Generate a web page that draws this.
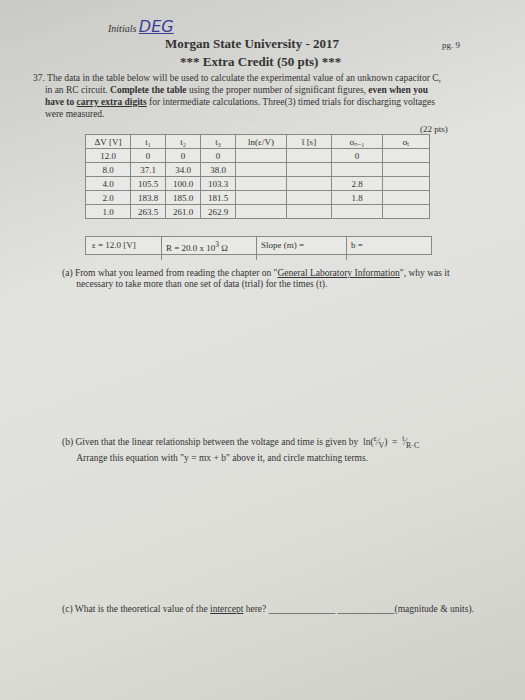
<!DOCTYPE html>
<html><head><meta charset="utf-8">
<script src="https://cdn.jsdelivr.net/npm/chart.js@4"></script>
<style>
body{margin:0;width:525px;height:700px;overflow:hidden;background:linear-gradient(160deg,#c9c9c6 0%,#e2e2df 35%,#deded9 70%,#cfcfca 100%);font-family:"Liberation Serif",serif;color:#333}
.a{position:absolute;white-space:nowrap}
table{position:absolute;left:85px;top:134px;border-collapse:collapse;font-size:9px;background:#e8e8e4}
td{border:1px solid #888;height:13px;padding:0 3px;text-align:center}
#bot{position:absolute;left:85px;top:236px;width:345px;height:17px;border:1px solid #888;font-size:9px;background:#e8e8e4}
</style></head><body>
<div class="a" style="left:108px;top:17px;font-size:10px;font-style:italic">Initials <span style="font-size:16px;color:#3a3f9a;text-decoration:underline;font-family:'DejaVu Sans'">DEG</span></div>
<div class="a" style="left:165px;top:36px;font-size:13px;font-weight:bold">Morgan State University - 2017</div>
<div class="a" style="left:442px;top:40px;font-size:9px">pg. 9</div>
<div class="a" style="left:180px;top:54px;font-size:13px;font-weight:bold">*** Extra Credit (50 pts) ***</div>
<div class="a" style="left:33px;top:72px;font-size:9.5px;line-height:12px">37. The data in the table below will be used to calculate the experimental value of an unknown capacitor C,<br>&nbsp;&nbsp;&nbsp;&nbsp;&nbsp;in an RC circuit. <b>Complete the table</b> using the proper number of significant figures, <b>even when you</b><br>&nbsp;&nbsp;&nbsp;&nbsp;&nbsp;<b>have to <u>carry extra digits</u></b> for intermediate calculations. Three(3) timed trials for discharging voltages<br>&nbsp;&nbsp;&nbsp;&nbsp;&nbsp;were measured.</div>
<div class="a" style="left:420px;top:124px;font-size:9px">(22 pts)</div>
<table id="t"></table>
<div id="bot"><span class="a" style="left:6px;top:3px">ε = 12.0 [V]</span><span class="a" style="left:75px;top:0;height:17px;border-left:1px solid #888;padding:3px 4px">R = 20.0 x 10<sup>3</sup> Ω</span><span class="a" style="left:170px;top:0;height:17px;border-left:1px solid #888;padding:3px 4px">Slope (m) =</span><span class="a" style="left:260px;top:0;height:17px;border-left:1px solid #888;padding:3px 4px">b =</span></div>
<div class="a" style="left:62px;top:268px;font-size:9.5px;line-height:11px">(a) From what you learned from reading the chapter on "<u>General Laboratory Information</u>", why was it<br>&nbsp;&nbsp;&nbsp;&nbsp;&nbsp;&nbsp;necessary to take more than one set of data (trial) for the times (t).</div>
<div class="a" style="left:62px;top:432px;font-size:9.5px;line-height:13px">(b) Given that the linear relationship between the voltage and time is given by &nbsp;ln(<sup>ε</sup>&frasl;<sub>V</sub>) &nbsp;= &nbsp;<sup>t</sup>&frasl;<sub>R·C</sub><br>&nbsp;&nbsp;&nbsp;&nbsp;&nbsp;&nbsp;Arrange this equation with "y = mx + b" above it, and circle matching terms.</div>
<div class="a" style="left:62px;top:604px;font-size:9.5px">(c) What is the theoretical value of the <u>intercept</u> here? ______________ ____________(magnitude &amp; units).</div>
<script>
const headers = ["ΔV [V]", "t₁", "t₂", "t₃", "ln(ε/V)", "t̄ [s]", "σₙ₋₁", "σₜ"];
const voltages = ["12.0", "8.0", "4.0", "2.0", "1.0"];
const t1 = ["0", "37.1", "105.5", "183.8", "263.5"];
const t2 = ["0", "34.0", "100.0", "185.0", "261.0"];
const t3 = ["0", "38.0", "103.3", "181.5", "262.9"];
const sigma = ["0", "", "2.8", "1.8", ""];
const widths = [38, 28, 28, 28, 44, 38, 44, 40];
let html = "<tr>" + headers.map((h, i) => `<td style="width:${widths[i]}px">${h}</td>`).join("") + "</tr>";
voltages.forEach((v, i) => {
    html += `<tr><td>${v}</td><td>${t1[i]}</td><td>${t2[i]}</td><td>${t3[i]}</td><td></td><td></td><td>${sigma[i]}</td><td></td></tr>`;
});
document.getElementById("t").innerHTML = html;
</script>
</body></html>
